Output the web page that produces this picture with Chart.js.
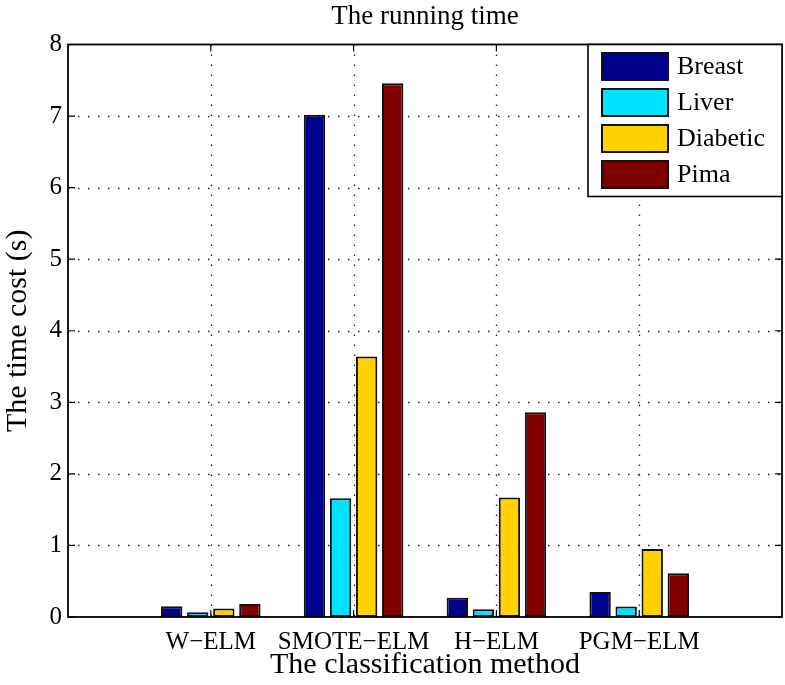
<!DOCTYPE html>
<html><head><meta charset="utf-8">
<script src="https://cdn.jsdelivr.net/npm/chart.js@4.4.0/dist/chart.umd.min.js"></script>
<style>html,body{margin:0;padding:0;background:#fff;}</style>
</head><body>
<canvas id="c" width="785" height="685"></canvas>
<script>
const categories = ['W\u2212ELM', 'SMOTE\u2212ELM', 'H\u2212ELM', 'PGM\u2212ELM'];
const seriesNames = ['Breast', 'Liver', 'Diabetic', 'Pima'];
const breast   = [0.15, 7.02, 0.27, 0.35];
const liver    = [0.065, 1.66, 0.11, 0.145];
const diabetic = [0.12, 3.64, 1.67, 0.95];
const pima     = [0.18, 7.46, 2.86, 0.61];
const yTicks = [0, 1, 2, 3, 4, 5, 6, 7, 8];
const seriesColors = ['#00008F', '#00E1FF', '#FFD200', '#800000'];

const FONT = '"Liberation Serif", serif';
const labels = [''].concat(categories, ['']);
const pad = a => [null].concat(a, [null]);
const seriesValues = [breast, liver, diabetic, pima];

const datasets = seriesValues.map((vals, i) => ({
  label: seriesNames[i],
  data: pad(vals),
  backgroundColor: seriesColors[i],
  borderColor: '#111',
  borderWidth: 2,
  borderSkipped: false,
  categoryPercentage: 0.73,
  barPercentage: 0.82
}));

const framePlugin = {
  id: 'frame',
  beforeDatasetsDraw(chart) {
    const {ctx, chartArea: a, scales: {x, y}} = chart;
    ctx.save();
    ctx.strokeStyle = '#222';
    ctx.lineWidth = 1.3;
    ctx.setLineDash([1.5, 8.5]);
    yTicks.forEach(v => {
      if (v === yTicks[0] || v === yTicks[yTicks.length - 1]) return;
      const py = Math.round(y.getPixelForValue(v)) + 0.5;
      ctx.beginPath(); ctx.moveTo(a.left, py); ctx.lineTo(a.right, py); ctx.stroke();
    });
    categories.forEach((c, i) => {
      const px = Math.round(x.getPixelForValue(i + 1)) + 0.5;
      ctx.beginPath(); ctx.moveTo(px, a.top); ctx.lineTo(px, a.bottom); ctx.stroke();
    });
    ctx.restore();
  },
  afterDatasetsDraw(chart) {
    const {ctx, chartArea: a, scales: {x, y}} = chart;
    ctx.save();
    ctx.strokeStyle = '#000';
    ctx.lineWidth = 1.8;
    ctx.setLineDash([]);
    ctx.strokeRect(a.left, a.top, a.right - a.left, a.bottom - a.top);
    const tl = 7;
    ctx.lineWidth = 1.2;
    yTicks.forEach(v => {
      const py = y.getPixelForValue(v);
      ctx.beginPath();
      ctx.moveTo(a.left, py); ctx.lineTo(a.left + tl, py);
      ctx.moveTo(a.right, py); ctx.lineTo(a.right - tl, py);
      ctx.stroke();
    });
    categories.forEach((c, i) => {
      const px = x.getPixelForValue(i + 1);
      ctx.beginPath();
      ctx.moveTo(px, a.bottom); ctx.lineTo(px, a.bottom - tl);
      ctx.moveTo(px, a.top); ctx.lineTo(px, a.top + tl);
      ctx.stroke();
    });
    // legend box
    const bw = 194, bh = 152;
    const bx = a.right - bw, by = a.top;
    ctx.fillStyle = '#fff';
    ctx.fillRect(bx, by, bw, bh);
    ctx.lineWidth = 1.6;
    ctx.strokeRect(bx, by, bw, bh);
    const H = Chart.helpers;
    const legFont = H && H.toFont ? H.toFont({family: FONT, size: 26}) : null;
    chart.data.datasets.forEach((ds, i) => {
      const sx = bx + 14, sy = by + 8.5 + i * 36;
      ctx.fillStyle = ds.backgroundColor;
      ctx.fillRect(sx, sy, 66, 27);
      ctx.strokeStyle = '#111';
      ctx.lineWidth = 2;
      ctx.strokeRect(sx, sy, 66, 27);
      if (legFont && H.renderText) {
        H.renderText(ctx, ds.label, sx + 75, sy + 14, legFont,
          {color: '#000', textAlign: 'left', textBaseline: 'middle'});
      } else {
        ctx.fillStyle = '#000';
        ctx.textBaseline = 'middle';
        ctx.textAlign = 'left';
        ctx.font = '26px ' + FONT;
        ctx.fillText(ds.label, sx + 75, sy + 14);
      }
    });
    ctx.restore();
  }
};

new Chart(document.getElementById('c'), {
  type: 'bar',
  data: {labels: labels, datasets: datasets},
  plugins: [framePlugin],
  options: {
    responsive: false,
    animation: false,
    layout: {padding: {left: 0, right: 3, top: 0, bottom: 0}},
    plugins: {
      legend: {display: false},
      tooltip: {enabled: false},
      title: {
        display: true,
        text: 'The running time',
        fullSize: false,
        color: '#000',
        font: {family: FONT, size: 27, weight: 'normal'},
        padding: {top: 1, bottom: 11.1}
      }
    },
    scales: {
      x: {
        type: 'category',
        offset: false,
        grid: {display: false, drawTicks: false},
        border: {display: false},
        ticks: {
          autoSkip: false, maxRotation: 0, minRotation: 0,
          color: '#000', padding: 10,
          font: {family: FONT, size: 25}
        },
        title: {
          display: true, text: 'The classification method', color: '#000',
          font: {family: FONT, size: 30}, padding: {top: 0, bottom: 2}
        },
        afterFit(s) { s.height = 68; s.paddingLeft = 0; s.paddingRight = 0; }
      },
      y: {
        min: 0, max: 8,
        grid: {display: false, drawTicks: false},
        border: {display: false},
        afterBuildTicks(s) { s.ticks = yTicks.map(v => ({value: v})); },
        ticks: {
          color: '#000', padding: 6,
          font: {family: FONT, size: 25}
        },
        title: {
          display: true, text: 'The time cost (s)', color: '#000',
          font: {family: FONT, size: 30}, padding: {top: 0, bottom: 0}
        },
        afterFit(s) { s.width = 68; }
      }
    }
  }
});
</script>
</body></html>
